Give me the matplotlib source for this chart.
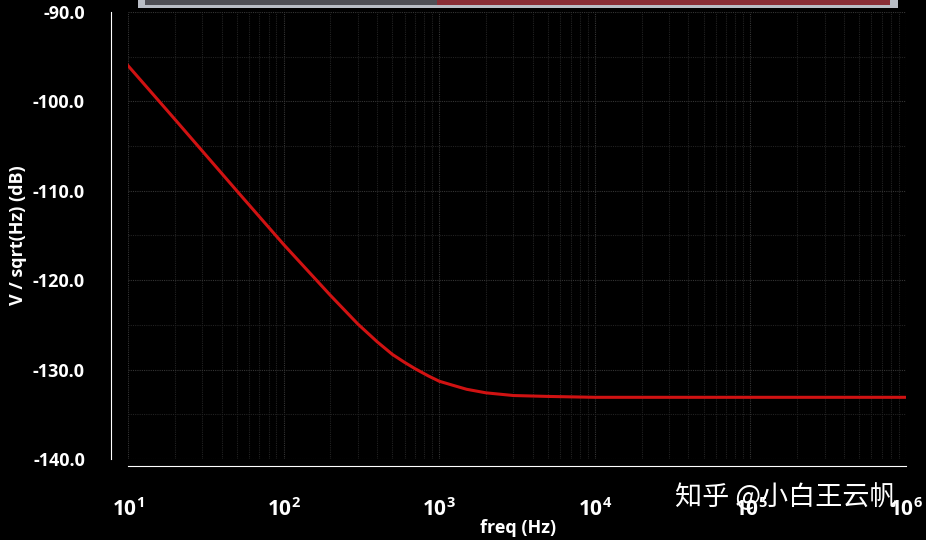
import matplotlib
matplotlib.use("Agg")
import matplotlib.pyplot as plt
from matplotlib.patches import Rectangle
from matplotlib.ticker import FixedLocator, LogLocator, NullFormatter

# Rauschspektrum
freq = [10, 20, 50, 100, 200, 300, 400, 500, 600, 700, 850, 1000, 1250, 1500,
        2000, 3000, 5000, 7000, 10000, 100000, 1000000]
noise_db = [-96.0, -102.0, -110.0, -116.0, -121.7, -124.9, -126.9, -128.3,
            -129.2, -129.9, -130.7, -131.3, -131.8, -132.2, -132.6, -132.9,
            -133.0, -133.05, -133.1, -133.1, -133.1]

y_ticks = [-90, -100, -110, -120, -130, -140]
x_ticks = [1e1, 1e2, 1e3, 1e4, 1e5, 1e6]
x_labels = ['$\\mathbf{10^{1}}$', '$\\mathbf{10^{2}}$', '$\\mathbf{10^{3}}$',
            '$\\mathbf{10^{4}}$', '$\\mathbf{10^{5}}$', '$\\mathbf{10^{6}}$']

plt.rcParams['font.family'] = ['Open Sans', 'DejaVu Sans']
plt.rcParams['mathtext.fontset'] = 'custom'
plt.rcParams['mathtext.bf'] = 'Open Sans:bold'
plt.rcParams['mathtext.rm'] = 'Open Sans'

fig = plt.figure(figsize=(9.26, 5.4), dpi=100, facecolor='black')
ax = fig.add_axes([128 / 926, 1 - 459 / 540, 778 / 926, 447 / 540])
ax.set_facecolor('black')

ax.plot(freq, noise_db, color='#d01212', linewidth=2.2)

ax.set_xscale('log')
ax.set_xlim(10, 1e6)
ax.set_ylim(-140, -90)

ax.xaxis.set_major_locator(FixedLocator(x_ticks))
ax.set_xticklabels(x_labels)
ax.xaxis.set_minor_locator(LogLocator(base=10, subs=range(2, 10)))
ax.xaxis.set_minor_formatter(NullFormatter())
ax.yaxis.set_major_locator(FixedLocator(y_ticks))
ax.set_yticklabels([f'{v:.1f}' for v in y_ticks])
ax.yaxis.set_minor_locator(FixedLocator(range(-135, -90, 10)))

ax.grid(which='major', color='#353535', linestyle=(0, (1, 1)), linewidth=0.8)
ax.grid(which='minor', color='#222222', linestyle=(0, (1, 1)), linewidth=0.8)

ax.tick_params(which='both', length=0, colors='white')
ax.tick_params(axis='x', pad=23, labelsize=15)
ax.tick_params(axis='y', pad=19, labelsize=13)

ax.spines['top'].set_visible(False)
ax.spines['right'].set_visible(False)
ax.spines['left'].set_position(('outward', 12))
ax.spines['bottom'].set_position(('outward', 5))
ax.spines['left'].set_color('white')
ax.spines['bottom'].set_color('white')

ax.set_xlabel('freq (Hz)', color='white', fontsize=13, fontweight='bold')
ax.set_ylabel('V / sqrt(Hz) (dB)', color='white', fontsize=13, fontweight='bold')
ax.xaxis.set_label_coords(0.501, -0.134)
ax.yaxis.set_label_coords(-0.130, 0.501)

# abgeschnittene Legendenleiste oben
fig.patches.append(Rectangle((138 / 926, 1 - 8 / 540), 760 / 926, 8 / 540,
                             transform=fig.transFigure, facecolor='#b9bdc5',
                             edgecolor='none'))
fig.patches.append(Rectangle((145 / 926, 1 - 5 / 540), 292 / 926, 5 / 540,
                             transform=fig.transFigure, facecolor='#4f4f55',
                             edgecolor='none'))
fig.patches.append(Rectangle((437 / 926, 1 - 5 / 540), 453 / 926, 5 / 540,
                             transform=fig.transFigure, facecolor='#8a2e36',
                             edgecolor='none'))

# Wasserzeichen
fig.text(675 / 926, 1 - 497 / 540, '知乎 @小白王云帆', color='white', fontsize=19.5,
         family=['Noto Sans CJK SC', 'DejaVu Sans'], va='center', ha='left')

fig.canvas.draw()
for lbl in ax.get_yticklabels():
    lbl.set_fontweight('bold')

fig.savefig('out.png', dpi=100, facecolor='black')
